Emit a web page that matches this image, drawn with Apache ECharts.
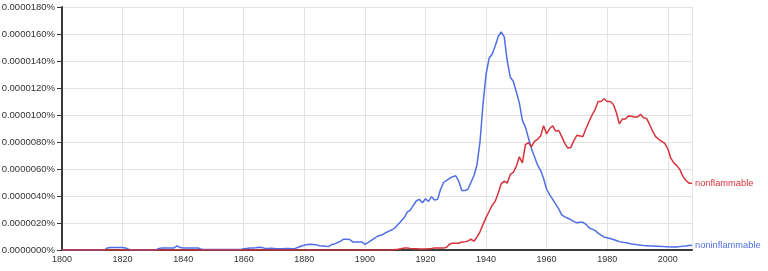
<!DOCTYPE html>
<html>
<head>
<meta charset="utf-8">
<script src="https://cdn.jsdelivr.net/npm/echarts@6/dist/echarts.min.js"></script>
<style>html,body{margin:0;padding:0;background:#fff}#c{width:768px;height:271px}</style>
</head>
<body>
<div id="c"></div>
<script>
// Values in units of 0.0000010 % (1e-6 percent)
const startYear = 1800;
const endYear = 2008;
const xTicks = [1800, 1820, 1840, 1860, 1880, 1900, 1920, 1940, 1960, 1980, 2000];
const yTicks = [0, 2, 4, 6, 8, 10, 12, 14, 16, 18];
const seriesNames = ["nonflammable", "noninflammable"];

// noninflammable, 1800..2008
const noninflammable = [
  0,0,0,0,0,0,0,0,0,0, 0,0,0,0,0,0.15,0.18,0.18,0.18,0.18,            // 1800-1819
  0.18,0.15,0.05,0,0,0,0,0,0,0, 0,0,0.12,0.15,0.15,0.15,0.15,0.15,0.3,0.18, // 1820-1839
  0.15,0.15,0.15,0.15,0.15,0.15,0.05,0.03,0.03,0.03, 0.03,0.03,0.03,0.03,0.03,0.03,0.03,0.03,0.03,0.03, // 1840-1859
  0.1,0.12,0.14,0.15,0.17,0.2,0.18,0.12,0.12,0.13, 0.12,0.1,0.1,0.1,0.11,0.11,0.1,0.12,0.2,0.3, // 1860-1879
  0.35,0.4,0.42,0.4,0.38,0.32,0.3,0.28,0.25,0.4, 0.45,0.55,0.65,0.8,0.8,0.78,0.6,0.6,0.6,0.6, // 1880-1899
  0.42,0.55,0.7,0.85,1.0,1.08,1.15,1.3,1.4,1.5, 1.65,1.9,2.15,2.4,2.8,2.95,3.3,3.65,3.75,3.5, // 1900-1919
  3.8,3.6,3.95,3.7,3.75,4.5,5.0,5.15,5.3,5.43, 5.5,5.1,4.4,4.4,4.5,5.0,5.5,6.3,8.0,10.8, // 1920-1939
  13.0,14.2,14.5,15.1,15.8,16.15,15.8,14.0,12.8,12.5, 11.7,10.9,9.6,9.1,8.3,7.5,6.9,6.3,5.9,5.3, // 1940-1959
  4.5,4.1,3.75,3.4,3.05,2.6,2.45,2.35,2.25,2.1, 2.02,2.05,2.05,1.9,1.65,1.55,1.45,1.25,1.1,0.95, // 1960-1979
  0.9,0.85,0.78,0.7,0.62,0.58,0.55,0.5,0.45,0.42, 0.38,0.36,0.33,0.32,0.3,0.29,0.28,0.27,0.26,0.25, // 1980-1999
  0.25,0.23,0.22,0.22,0.25,0.28,0.3,0.33,0.35 // 2000-2008
];

// nonflammable, 1800..2008 (zero before 1910)
const nonflammableEarly = new Array(110).fill(0);
const nonflammableLate = [
  0.03,0.05,0.1,0.15,0.15,0.12,0.1,0.1,0.08,0.08,   // 1910-1919
  0.08,0.1,0.12,0.15,0.15,0.15,0.14,0.2,0.45,0.5,   // 1920-1929
  0.5,0.5,0.6,0.62,0.65,0.8,0.65,0.95,1.35,1.9,     // 1930-1939
  2.4,2.85,3.3,3.6,4.2,4.9,5.1,4.95,5.6,5.75,       // 1940-1949
  6.2,6.9,6.45,7.8,7.95,7.65,8.05,8.2,8.45,9.2,     // 1950-1959
  8.6,9.0,9.2,8.8,8.85,8.4,7.9,7.55,7.6,8.1,        // 1960-1969
  8.5,8.45,8.4,9.0,9.5,10.0,10.4,11.0,11.0,11.2,    // 1970-1979
  11.0,11.0,10.8,10.2,9.35,9.7,9.7,9.93,9.9,9.85,   // 1980-1989
  9.85,10.05,9.8,9.75,9.3,8.8,8.4,8.2,8.05,7.9,     // 1990-1999
  7.5,6.8,6.45,6.25,5.95,5.45,5.15,4.95,4.95        // 2000-2008
];
const nonflammable = nonflammableEarly.concat(nonflammableLate);

const years = [];
for (let y = startYear; y <= endYear; y++) years.push(y);
const pairs = arr => years.map((y, i) => [y, arr[i]]);

const chart = echarts.init(document.getElementById('c'), null, {renderer: 'canvas'});
const font = 'Helvetica, Arial, "Liberation Sans", sans-serif';
const colors = {nonflammable: '#d6333b', noninflammable: '#4f6fe6'};

chart.setOption({
  animation: false,
  grid: {left: 62, right: 76, top: 7, bottom: 21, containLabel: false, outerBoundsMode: 'none'},
  xAxis: {
    type: 'value', min: startYear, max: endYear, interval: 20,
    axisLine: {show: true, lineStyle: {color: '#3a3a3a', width: 2}},
    axisTick: {show: false},
    axisLabel: {color: '#333', fontSize: 9, fontFamily: font, margin: 5,
      formatter: v => xTicks.includes(v) ? String(v) : ''},
    splitLine: {show: true, lineStyle: {color: '#e3e3e3', width: 1}}
  },
  yAxis: {
    type: 'value', min: 0, max: 18, interval: 2,
    axisLine: {show: true, lineStyle: {color: '#3a3a3a', width: 2}},
    axisTick: {show: true, length: 5, lineStyle: {color: '#3a3a3a', width: 1}},
    axisLabel: {color: '#333', fontSize: 9.5, fontFamily: font, margin: 7,
      formatter: v => yTicks.includes(v) ? (v * 1e-6).toFixed(7) + '%' : ''},
    splitLine: {show: true, lineStyle: {color: '#e3e3e3', width: 1}}
  },
  series: [
    {
      name: seriesNames[1], type: 'line', data: pairs(noninflammable),
      showSymbol: false, smooth: false,
      lineStyle: {color: colors.noninflammable, width: 1.5},
      itemStyle: {color: colors.noninflammable},
      endLabel: {show: true, formatter: '{a}', color: colors.noninflammable,
        fontSize: 9.3, fontFamily: font, distance: 3}
    },
    {
      name: seriesNames[0], type: 'line', data: pairs(nonflammable),
      showSymbol: false, smooth: false,
      lineStyle: {color: colors.nonflammable, width: 1.5},
      itemStyle: {color: colors.nonflammable},
      endLabel: {show: true, formatter: '{a}', color: colors.nonflammable,
        fontSize: 9.3, fontFamily: font, distance: 3}
    }
  ]
});
</script>
</body>
</html>
